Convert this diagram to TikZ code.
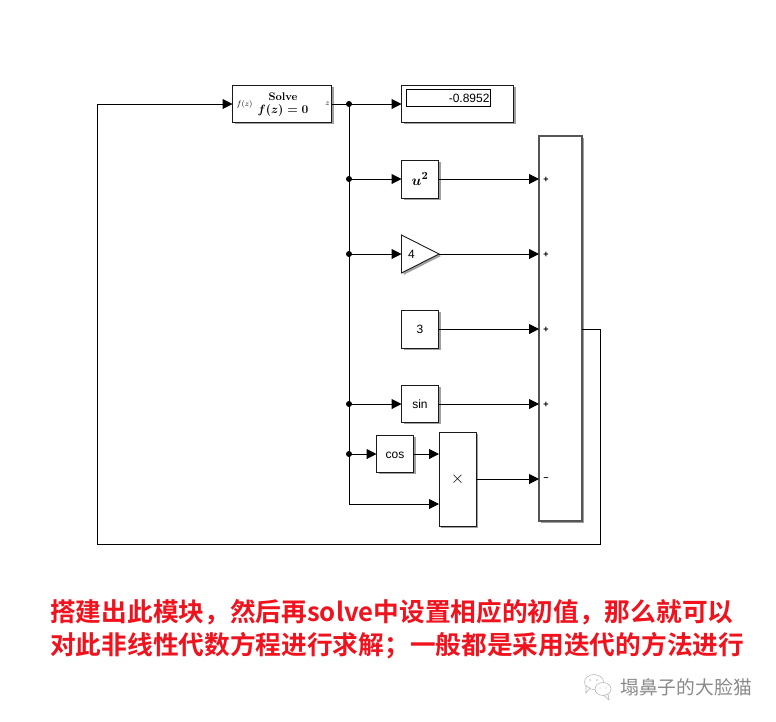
\documentclass[tikz,border=0pt]{standalone}
\usepackage{fontspec}
\setmainfont{Liberation Sans}
\newfontfamily\cjk{Noto Sans CJK SC}[BoldFont={* Bold}]
\newfontfamily\lmr{Latin Modern Roman}
\usetikzlibrary{arrows.meta,shadows,shapes.geometric,calc}
\definecolor{blockedge}{HTML}{1A1A1A}
\definecolor{sumedge}{HTML}{555555}
\definecolor{shade}{HTML}{909090}
\definecolor{redtext}{HTML}{F0131E}
\definecolor{marktext}{HTML}{8A8A8A}
\newsavebox{\usqbox}
\newsavebox{\feqbox}
\sbox{\usqbox}{\fontsize{15.5}{18}\selectfont\boldmath$u^{2}$}
\sbox{\feqbox}{\fontsize{11.5}{11.5}\selectfont\boldmath$f(z)=0$}
\tikzset{
  x=1pt,y=-1pt,
  sim/.style={draw=blockedge,line width=0.9pt,fill=white,inner sep=0pt,outer sep=0pt,
    drop shadow={shadow xshift=2pt,shadow yshift=-2pt,fill=shade,opacity=0.85},font=\fontsize{12}{14}\selectfont},
  sig/.style={draw=black,line width=1pt,-{Triangle[length=10pt,width=10pt]}},
  wire/.style={draw=black,line width=1pt},
  junc/.style={circle,fill=black,inner sep=0pt,minimum size=6pt},
  port/.style={font=\bfseries\fontsize{9}{9}\selectfont,inner sep=0pt},
  lab/.style={font=\fontsize{12}{14}\selectfont,inner sep=0pt},
  bigred/.style={font=\cjk\bfseries\fontsize{25.7}{30}\selectfont,text=redtext,inner sep=0pt,anchor=base west},
}
\begin{document}
\begin{tikzpicture}
\useasboundingbox (0,0) rectangle (776,721);
\fill[white] (0,0) rectangle (776,721);
% blocks
\node[sim,minimum width=99pt,minimum height=37pt] (solve) at (282,103.5) {};
\node[sim,minimum width=112pt,minimum height=37pt] (disp) at (457.5,103.5) {};
\node[sim,minimum width=37pt,minimum height=38pt] (usq) at (420,179) {\usebox{\usqbox}};
\node[sim,minimum width=37pt,minimum height=38pt] (three) at (420,329) {};
\node[sim,minimum width=37pt,minimum height=37pt] (sinb) at (420,403.5) {};
\node[sim,minimum width=37pt,minimum height=37pt] (cosb) at (395,453.5) {};
\node[sim,minimum width=37pt,minimum height=94pt] (prod) at (457.5,479) {\fontsize{18}{18}\selectfont$\times$};
\node[sim,draw=sumedge,line width=1.3pt,minimum width=43pt,minimum height=385pt] (sumb) at (560.5,328.5) {};
\coordinate (g1) at (401.5,235);\coordinate (g2) at (401.5,273);\coordinate (g3) at (439,254);
\path[sim] (g1) -- (g2) -- (g3) -- cycle;
\node[lab] (gtxt) at (411.5,254.5) {4};
\node[lab] (t3) at (420,329) {3};
\node[lab,anchor=base] (tsin) at (420,408) {sin};
\node[lab,anchor=base] (tcos) at (395,458) {cos};
\coordinate (gin) at (401.5,254);
\coordinate (gout) at (439,254);
% block contents
\node[draw=black,line width=1pt,minimum width=84pt,minimum height=17pt,inner sep=0pt,fill=white,
  font=\fontsize{12}{14}\selectfont,align=right,text width=83pt] (dval) at (448,98) {\hfill -0.8952};
\node[font=\lmr\bfseries\fontsize{11}{11}\selectfont,inner sep=0pt] (stitle) at (283,97) {Solve};
\node[inner sep=0pt] (seq) at (283,110) {\usebox{\feqbox}};
\node[font=\fontsize{8.5}{8.5}\selectfont,inner sep=0pt] (fz) at (244.5,104) {$f(z)$};
\node[font=\fontsize{8.5}{8.5}\selectfont,inner sep=0pt] (zl) at (327.5,104) {$z$};
% sum port signs
\node[port] (p1) at (546,179.5) {+};
\node[port] (p2) at (546,254.5) {+};
\node[port] (p3) at (546,329.5) {+};
\node[port] (p4) at (546,404.5) {+};
\node[port] (p5) at (546,479.5) {--};
% junctions
\coordinate (j0) at (349,104);
\node[junc] (j1) at (349,104) {};
\node[junc] (j2) at (349,179) {};
\node[junc] (j3) at (349,254) {};
\node[junc] (j4) at (349,404) {};
\node[junc] (j5) at (349,454) {};
\coordinate (bend) at (349,504);
\coordinate (fb1) at (600,329);
\coordinate (fb2) at (600,544);
\coordinate (fb3) at (97,544);
\coordinate (fb4) at (97,104);
% wires
\draw[wire] (solve.east |- j0) -- (j0);
\draw[wire] (j0) -- (bend);
\draw[sig] (j0) -- (disp.west |- j0);
\draw[sig] (j2.center) -- (usq.west);
\draw[sig] (j3.center) -- (gin);
\draw[sig] (j4.center) -- (sinb.west |- j4);
\draw[sig] (j5.center) -- (cosb.west |- j5);
\draw[sig] (bend) -- (prod.west |- bend);
\draw[sig] (cosb.east |- j5) -- (prod.west |- j5);
\draw[sig] (usq.east) -- (usq.east -| sumb.west);
\draw[sig] (gout) -- (gout -| sumb.west);
\draw[sig] (three.east) -- (three.east -| sumb.west);
\draw[sig] (sinb.east |- j4) -- (sumb.west |- j4);
\draw[sig] (prod.east) -- (prod.east -| sumb.west);
\draw[sig] (sumb.east |- fb1) -- (fb1) -- (fb2) -- (fb3) -- (fb4) -- (solve.west |- fb4);
% caption
\node[bigred] (cap1) at (50,621) {搭建出此模块，然后再solve中设置相应的初值，那么就可以};
\node[bigred] (cap2) at (50,654) {对此非线性代数方程进行求解；一般都是采用迭代的方法进行};
% watermark
\node[font=\cjk\fontsize{18.8}{20}\selectfont,text=marktext,inner sep=0pt,anchor=base west] (mark) at (620,694) {塌鼻子的大脸猫};
\begin{scope}[draw=gray!55,line width=0.6pt,fill=white]
\draw[fill=white] (594,682) ellipse (9.5 and 7.5);
\draw[fill=white] (586,693) -- (586,686) -- (590,688) -- cycle;
\draw[fill=white] (603,689) ellipse (8 and 6.5);
\draw[fill=white] (608,694) -- (609,700) -- (604,695.5) -- cycle;
\end{scope}
\fill[gray!55] (590,680) circle (0.8) (597,680) circle (0.8) (600,688) circle (0.7) (606,688) circle (0.7);
\end{tikzpicture}
\end{document}
